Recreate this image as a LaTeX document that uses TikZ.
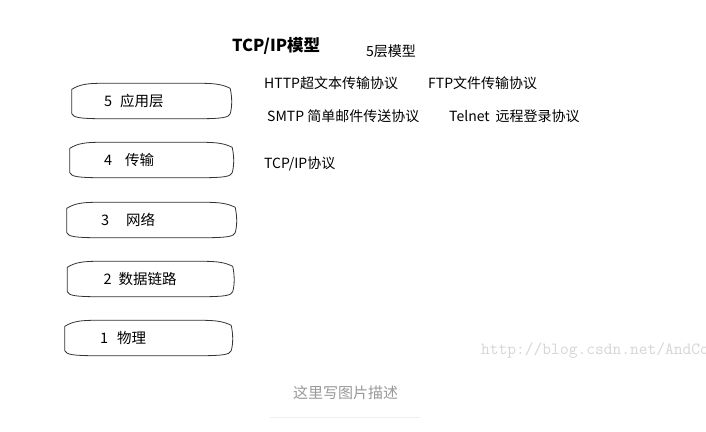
\documentclass[tikz,border=0pt]{standalone}
\usepackage{fontspec}
\setmainfont{Noto Sans CJK SC}
\usetikzlibrary{positioning}

\definecolor{capgray}{HTML}{999999}
\definecolor{wmgray}{HTML}{D6D6D6}
\definecolor{rulegray}{HTML}{EEEEEE}

\begin{document}
\begin{tikzpicture}[
  x=1pt, y=-1pt,
  layer/.style={minimum height=35pt, inner ysep=0pt, inner xsep=32pt, align=left, font=\fontsize{14.5}{16}\selectfont},
  layerline/.style={draw=black!80, line width=0.8pt},
  proto/.style={anchor=west, inner sep=0pt, font=\fontsize{14}{16}\selectfont},
  title/.style={anchor=west, inner sep=0pt, font=\fontsize{16.5}{18}\selectfont\bfseries}
]
\fill[white] (0,0) rectangle (706,431);
\clip (0,0) rectangle (706,431);

% title and model name
\node[title] (model) at (232,46) {TCP/IP模型};
\node[proto] (five) at (366,51) {5层模型};

% the five layers
\node[layer, minimum width=158pt, text width=94pt] (app) at (151,101) {5\hspace{8pt}应用层};
\node[layer, minimum width=162pt, text width=98pt] (trans) at (151,160) {\hspace{2pt}4\hspace{13pt}传输};
\node[layer, minimum width=168pt, text width=104pt] (net) at (151,220) {\hspace{2pt}3\hspace{17pt}网络};
\node[layer, minimum width=165pt, text width=101pt] (link) at (150,279) {\hspace{4pt}2\hspace{7pt}数据链路};
\node[layer, minimum width=166pt, text width=102pt] (phys) at (148,338) {\hspace{3pt}1\hspace{9pt}物理};

\foreach \n in {app,trans,net,link,phys}
  \draw[layerline] ([yshift=-6pt]\n.north west) .. controls ([xshift=8pt,yshift=-1pt]\n.north west) and ([xshift=16pt]\n.north west) .. ([xshift=30pt]\n.north west)
    -- ([xshift=-30pt]\n.north east) .. controls ([xshift=-16pt]\n.north east) and ([xshift=-8pt,yshift=-1pt]\n.north east) .. ([yshift=-5pt]\n.north east)
    .. controls ([xshift=2pt,yshift=-14pt]\n.north east) and ([xshift=2pt,yshift=12pt]\n.south east) .. ([yshift=5pt]\n.south east)
    .. controls ([xshift=-1pt,yshift=1pt]\n.south east) and ([xshift=-10pt]\n.south east) .. ([xshift=-30pt]\n.south east)
    -- ([xshift=30pt]\n.south west) .. controls ([xshift=10pt]\n.south west) and ([xshift=1pt,yshift=1pt]\n.south west) .. ([yshift=5pt]\n.south west)
    -- cycle;

% protocols
\node[proto] (http) at (264,83) {HTTP超文本传输协议};
\node[proto] (ftp) at (428,83) {FTP文件传输协议};
\node[proto] (smtp) at (267,116) {SMTP 简单邮件传送协议};
\node[proto] (telnet) at (449,116) {Telnet\hspace{6pt}远程登录协议};
\node[proto] (tcpip) at (264,164) {TCP/IP协议};

% watermark and caption
\node[anchor=west, inner sep=0pt, text=wmgray, font=\fontsize{17}{19}\selectfont\ttfamily] (mark) at (481,351) {http://blog.csdn.net/AndCo};
\node[anchor=west, inner sep=0pt, text=capgray, font=\fontsize{15}{17}\selectfont] (caption) at (293,393) {这里写图片描述};
\coordinate (rulel) at (270,417);
\coordinate (ruler) at (420,417);
\draw[rulegray, line width=0.8pt] (rulel) -- (ruler);

\end{tikzpicture}
\end{document}
